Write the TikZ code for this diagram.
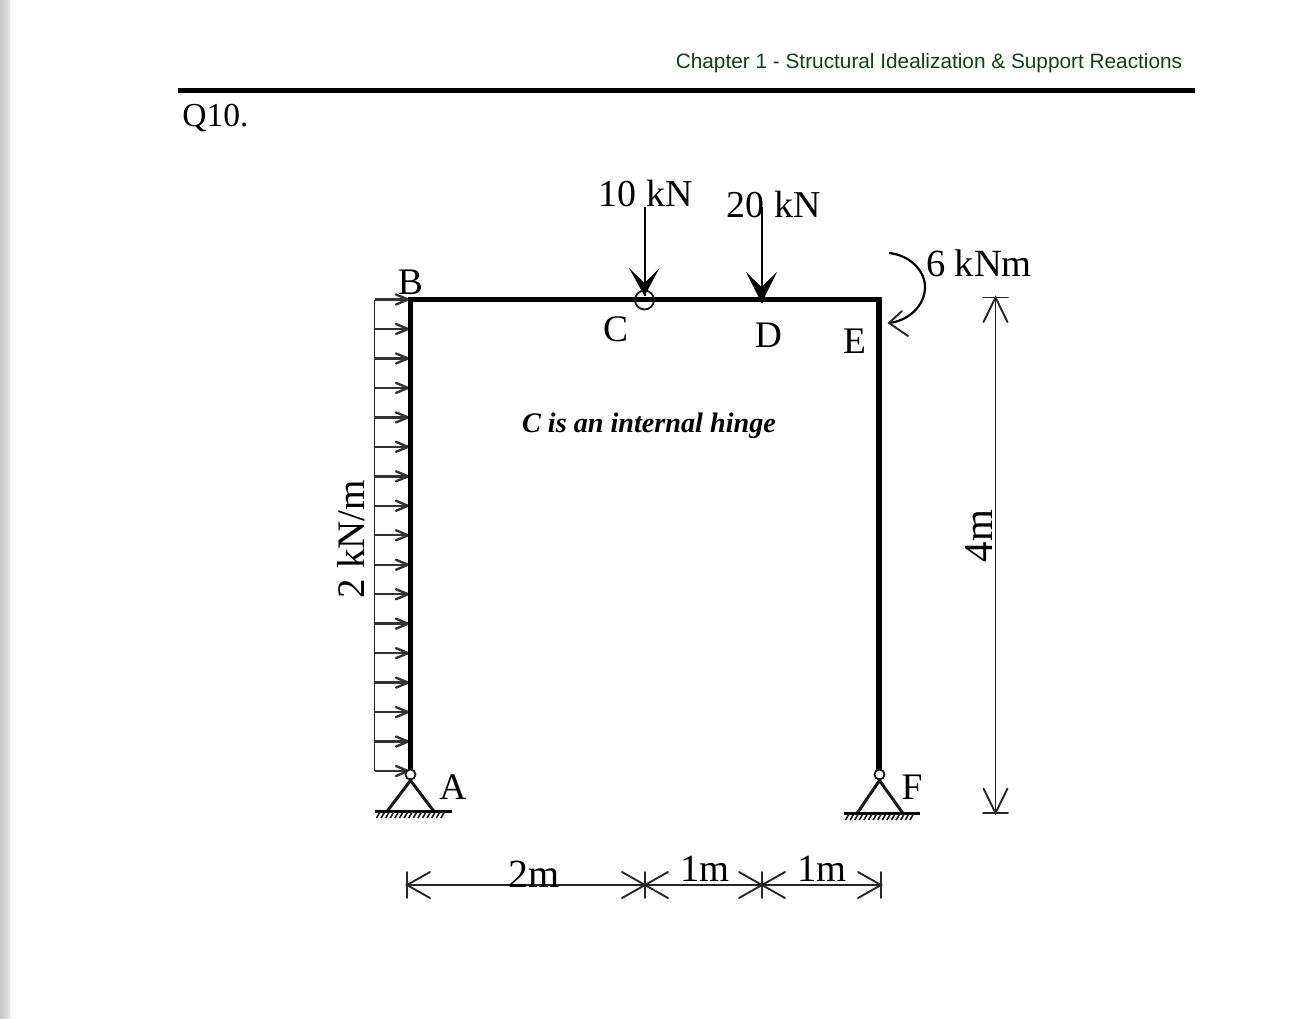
\documentclass[tikz,border=0pt]{standalone}
\usepackage{fontspec}
\setmainfont{Liberation Serif}
\newfontfamily\headfont{Liberation Sans}
\definecolor{headgreen}{HTML}{143F18}
\tikzset{
  lab/.style={anchor=base,inner sep=0pt,outer sep=0pt,font=\fontsize{38}{38}\selectfont,text=black},
  smalllab/.style={lab,font=\fontsize{37.5}{37.5}\selectfont},
  frame/.style={line width=5.5pt,line join=miter,line cap=butt},
  thin line/.style={line width=1.8pt,draw=black!85},
  wing/.style={line width=1.9pt,draw=black!85,line cap=round},
  loadarrow/.style={line width=2.4pt,draw=black!80},
  hingecirc/.style={circle,draw=black!90,fill=white,line width=1.8pt,minimum size=10pt,inner sep=0pt},
  suppline/.style={line width=3pt,draw=black!90},
  hatchline/.style={line width=1.6pt,draw=black!90},
}
\begin{document}
\begin{tikzpicture}[x=1pt,y=-1pt]
\useasboundingbox (0,0) rectangle (1290,1018);
\shade[left color=black!22,right color=black!10] (0,0) rectangle (10,1018);
% header
\node[anchor=base,inner sep=0pt,text=headgreen,font=\headfont\fontsize{20.8}{20.8}\selectfont] (head) at (929,68.5) {Chapter 1 - Structural Idealization \& Support Reactions};
\coordinate (ruleL) at (178,90.5);
\coordinate (ruleR) at (1195,90.5);
\draw[line width=5pt] (ruleL) -- (ruleR);
\node[lab,font=\fontsize{33.5}{33.5}\selectfont] (q) at (215.5,126.5) {Q10.};
% frame points
\coordinate (A) at (410.5,770);
\coordinate (B) at (410.5,299.5);
\coordinate (E) at (879,299.5);
\coordinate (F) at (879,770);
\coordinate (Cp) at (644.5,299.5);
\coordinate (Dp) at (761.5,299.5);
% uniform load
\coordinate (loadT) at (374.5,299.5);
\coordinate (loadB) at (374.5,771);
\draw[thin line] (loadT) -- (loadB);
\foreach \i in {0,...,16}{
  \pgfmathsetmacro{\yy}{299.5+29.47*\i}
  \coordinate (ls\i) at (374.5,\yy);
  \coordinate (le\i) at (408,\yy);
  \draw[loadarrow] (ls\i) -- (le\i);
  \draw[loadarrow,line cap=round,line join=round] (396,\yy-5) -- (le\i) -- (396,\yy+5);
}
\draw[frame] (A) -- (B) -- (E) -- (F);
% hinge C and forces
\node[hingecirc,minimum size=19pt,fill=none] (hC) at (644.5,300) {};
\coordinate (f1) at (644.5,207);
\coordinate (f1tip) at (644.5,296);
\draw[line width=2pt] (f1) -- (f1tip);
\fill[black] (f1tip) -- (629,268) -- (644.5,283) -- (659.5,268) -- cycle;
\coordinate (f2) at (761.5,207);
\coordinate (f2tip) at (761.5,303);
\draw[line width=2pt] (f2) -- (f2tip);
\fill[black] (f2tip) -- (746,272) -- (761.5,287) -- (777,272) -- cycle;
% supports
\node[hingecirc] (hA) at (410.5,774.5) {};
\coordinate (aL) at (387,811.5);
\coordinate (aR) at (434,811.5);
\draw[suppline,line join=miter] (aL) -- (hA.south) -- (aR);
\coordinate (gAL) at (375,811.5);
\coordinate (gAR) at (452,811.5);
\draw[line width=2.6pt] (gAL) -- (gAR);
\foreach \i in {0,...,14}{
  \draw[hatchline] (380+4.6*\i,812) -- ++(-3.5,6);
}
\node[hingecirc] (hF) at (879.5,774.5) {};
\coordinate (fL) at (857,813.5);
\coordinate (fR) at (903,813.5);
\draw[suppline,line join=miter] (fL) -- (hF.south) -- (fR);
\coordinate (gFL) at (844,813.5);
\coordinate (gFR) at (920,813.5);
\draw[line width=2.6pt] (gFL) -- (gFR);
\foreach \i in {0,...,14}{
  \draw[hatchline] (849+4.6*\i,814) -- ++(-3.5,6);
}
% moment
\coordinate (m1) at (889,253);
\coordinate (m2) at (925,287);
\coordinate (m3) at (889,323);
\draw[line width=2.2pt] (m1) .. controls (909,255) and (925,270) .. (m2) .. controls (925,306) and (908,321) .. (m3);
\draw[wing] (902,311) -- (m3) -- (908,336);
% 4m dimension
\coordinate (dT) at (995.5,297.5);
\coordinate (dB) at (995.5,813);
\draw[thin line] (dT) -- (dB);
\draw[wing] (983,297.5) -- (1008,297.5);
\draw[wing] (983,813) -- (1008,813);
\draw[wing] (983.5,322) -- (dT) -- (1007.5,322);
\draw[wing] (983.5,788.5) -- (dB) -- (1007.5,788.5);
% horizontal dimension
\coordinate (h0) at (407,885);
\coordinate (h1) at (645,885);
\coordinate (h2) at (762,885);
\coordinate (h3) at (881,885);
\draw[thin line] (h0) -- (h3);
\foreach \p in {h0,h1,h2,h3}{
  \draw[wing] ([yshift=-13pt]\p) -- ([yshift=13pt]\p);
}
\foreach \p in {h0,h1,h2}{
  \draw[wing] ([shift={(23,-13)}]\p) -- (\p) -- ([shift={(23,13)}]\p);
}
\foreach \p in {h1,h2,h3}{
  \draw[wing] ([shift={(-23,-13)}]\p) -- (\p) -- ([shift={(-23,13)}]\p);
}
% labels
\node[lab] (l10) at (645.5,206.5) {10 kN};
\node[lab] (l20) at (773.5,217.5) {20 kN};
\node[lab,font=\fontsize{38.5}{38.5}\selectfont] (l6) at (979,276.5) {6 kNm};
\node[smalllab] (lB) at (410.5,294.5) {B};
\node[smalllab] (lC) at (615.5,341) {C};
\node[smalllab] (lD) at (768.5,347) {D};
\node[smalllab] (lE) at (854.5,353) {E};
\node[smalllab] (lA) at (453,799) {A};
\node[smalllab] (lF) at (912,799) {F};
\node[lab,font=\bfseries\itshape\fontsize{28.2}{28.2}\selectfont] (hinge) at (649,432.5) {C is an internal hinge};
\node[lab,rotate=90,font=\fontsize{39}{39}\selectfont] (lq) at (364,539) {2 kN/m};
\node[lab,rotate=90,font=\fontsize{41}{41}\selectfont] (l4) at (992,536) {4m};
\node[lab,font=\fontsize{40}{40}\selectfont] (l2m) at (534,887) {2m};
\node[lab,font=\fontsize{38.5}{38.5}\selectfont] (l1a) at (705,881) {1m};
\node[lab,font=\fontsize{38.5}{38.5}\selectfont] (l1b) at (822,881) {1m};
\end{tikzpicture}
\end{document}
